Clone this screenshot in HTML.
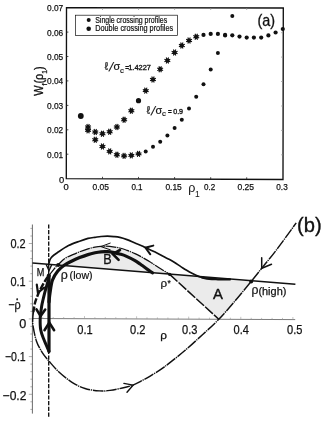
<!DOCTYPE html>
<html lang="en">
<head>
<meta charset="utf-8">
<title>Figure</title>
<style>
html,body{margin:0;padding:0;background:#fff;}
body{width:323px;height:422px;overflow:hidden;}
svg{display:block;font-family:"Liberation Sans",sans-serif;}
</style>
</head>
<body>
<svg width="323" height="422" viewBox="0 0 323 422">
<rect x="0" y="0" width="323" height="422" fill="#fff"/>
<g id="panel-a">
<path d="M66.5 7.7L283.3 8L283 179.5L66.3 178.6Z" fill="none" stroke="#111" stroke-width="1.35"/>
<path d="M66.4 154.2h2M66.4 129.8h2M66.4 105.4h2M66.4 80.9h2M66.4 56.5h2M66.4 32.1h2M102.5 178.8v-2M138.5 178.9v-2M174.6 179.0v-2M210.7 179.2v-2M246.7 179.3v-2" stroke="#222" stroke-width="0.8" fill="none"/>
<path d="M282.8 154.8h-1.8M282.8 130.4h-1.8M282.8 106.0h-1.8M282.8 81.5h-1.8M282.8 57.1h-1.8M282.8 32.7h-1.8M102.5 8.2v1.8M138.5 8.2v1.8M174.6 8.2v1.8M210.7 8.2v1.8M246.7 8.2v1.8" stroke="#999" stroke-width="0.7" fill="none"/>
<g font-size="9.4" text-anchor="end" fill="#111" stroke="#111" stroke-width="0.25">
<text x="64.2" y="182.8">0</text>
<text x="63.2" y="157.6" textLength="16.2" lengthAdjust="spacingAndGlyphs">0.01</text>
<text x="63.2" y="133.2" textLength="16.2" lengthAdjust="spacingAndGlyphs">0.02</text>
<text x="63.2" y="108.8" textLength="16.2" lengthAdjust="spacingAndGlyphs">0.03</text>
<text x="63.2" y="84.3" textLength="16.2" lengthAdjust="spacingAndGlyphs">0.04</text>
<text x="63.2" y="59.9" textLength="16.2" lengthAdjust="spacingAndGlyphs">0.05</text>
<text x="63.2" y="35.5" textLength="16.2" lengthAdjust="spacingAndGlyphs">0.06</text>
<text x="63.2" y="11.1" textLength="16.2" lengthAdjust="spacingAndGlyphs">0.07</text>
</g>
<g font-size="9.4" text-anchor="middle" fill="#111" stroke="#111" stroke-width="0.25">
<text x="66.1" y="189.8">0</text>
<text x="100.8" y="189.6" textLength="16.4" lengthAdjust="spacingAndGlyphs">0.05</text>
<text x="137.0" y="189.6" textLength="11.2" lengthAdjust="spacingAndGlyphs">0.1</text>
<text x="173.6" y="189.6" textLength="16.4" lengthAdjust="spacingAndGlyphs">0.15</text>
<text x="209.6" y="189.6" textLength="11.2" lengthAdjust="spacingAndGlyphs">0.2</text>
<text x="245.7" y="189.6" textLength="16.6" lengthAdjust="spacingAndGlyphs">0.25</text>
<text x="282.0" y="189.6" textLength="11.4" lengthAdjust="spacingAndGlyphs">0.3</text>
</g>
<text x="188.2" y="191.6" font-size="12.5" fill="#111">ρ<tspan font-size="8.5" dx="-0.3" dy="5">1</tspan></text>
<text transform="translate(43.3 95.8) rotate(-90)" font-size="12.2" stroke="#111" stroke-width="0.3" fill="#111" textLength="29.5" lengthAdjust="spacingAndGlyphs">W<tspan font-size="7.5" dy="3.6">f</tspan><tspan dy="-3.6">(ρ</tspan><tspan font-size="7.5" dy="3.6">1</tspan><tspan dy="-3.6">)</tspan></text>
<rect x="75.4" y="15.2" width="102.2" height="20.2" fill="#fff" stroke="#111" stroke-width="0.7"/>
<circle cx="88.7" cy="20.1" r="2" fill="#111"/><circle cx="88.7" cy="28.7" r="2.3" fill="#111"/>
<text x="95.2" y="22.5" font-size="8.2" stroke="#111" stroke-width="0.2" fill="#111" textLength="72" lengthAdjust="spacingAndGlyphs">Single crossing profiles</text>
<text x="95.2" y="31.2" font-size="8.2" stroke="#111" stroke-width="0.2" fill="#111" textLength="78" lengthAdjust="spacingAndGlyphs">Double crossing profiles</text>
<text x="257.4" y="26" font-size="16.2" fill="#111" stroke="#111" stroke-width="0.3" textLength="17.6" lengthAdjust="spacingAndGlyphs">(a)</text>
<g fill="#111" stroke="#111" stroke-width="0.2">
<text x="104.5" y="70.2" font-size="11.5" textLength="3.6" lengthAdjust="spacingAndGlyphs">ℓ</text>
<text transform="translate(108.5 71.0) skewX(-14)" font-size="12.5" stroke-width="0.1">/</text>
<text x="113.4" y="70.2" font-size="10.8">σ</text>
<text x="119.9" y="72.7" font-size="7.8">c</text>
<text x="125.3" y="69.9" font-size="6.4" stroke-width="0.35">=</text>
<text x="128.2" y="70.2" font-size="6.6" stroke-width="0.3" textLength="22.8" lengthAdjust="spacingAndGlyphs">1.4227</text>
</g>
<g fill="#111" stroke="#111" stroke-width="0.2">
<text x="146.6" y="113.8" font-size="11.5" textLength="3.6" lengthAdjust="spacingAndGlyphs">ℓ</text>
<text transform="translate(150.6 114.6) skewX(-14)" font-size="12.5" stroke-width="0.1">/</text>
<text x="155.5" y="113.8" font-size="10.8">σ</text>
<text x="162.0" y="116.3" font-size="7.8">c</text>
<text x="167.9" y="113.5" font-size="6.4" stroke-width="0.35">=</text>
<text x="173.2" y="113.8" font-size="6.6" stroke-width="0.3" textLength="9.9" lengthAdjust="spacingAndGlyphs">0.9</text>
</g>
<g fill="#111"><circle cx="80.8" cy="116.0" r="2.9"/><circle cx="88.0" cy="127.0" r="2.1"/><circle cx="95.3" cy="132.0" r="2.1"/><circle cx="102.5" cy="133.7" r="2.1"/><circle cx="109.7" cy="131.8" r="2.1"/><circle cx="116.9" cy="127.0" r="2.1"/><circle cx="124.1" cy="119.7" r="2.1"/><circle cx="131.3" cy="110.7" r="2.1"/><circle cx="138.5" cy="100.7" r="2.6"/><circle cx="145.7" cy="90.6" r="2.1"/><circle cx="153.0" cy="79.5" r="2.1"/><circle cx="160.2" cy="69.2" r="2.1"/><circle cx="167.4" cy="60.5" r="2.1"/><circle cx="174.6" cy="52.5" r="2.1"/><circle cx="181.8" cy="45.5" r="2.1"/><circle cx="189.0" cy="40.5" r="2.1"/><circle cx="196.2" cy="36.8" r="2.1"/><circle cx="203.5" cy="34.9" r="2.1"/><circle cx="210.7" cy="33.9" r="2.1"/><circle cx="217.9" cy="33.9" r="2.1"/><circle cx="225.1" cy="34.9" r="2.1"/><circle cx="232.3" cy="35.3" r="2.1"/><circle cx="239.5" cy="36.6" r="2.1"/><circle cx="246.7" cy="37.6" r="2.1"/><circle cx="253.9" cy="37.6" r="2.1"/><circle cx="261.2" cy="37.6" r="2.1"/><circle cx="268.4" cy="35.4" r="2.1"/><circle cx="275.6" cy="32.5" r="2.1"/><circle cx="282.8" cy="29.0" r="2.1"/><circle cx="88.0" cy="130.4" r="2.1"/><circle cx="95.3" cy="139.8" r="2.1"/><circle cx="102.5" cy="146.5" r="2.1"/><circle cx="109.7" cy="151.4" r="2.1"/><circle cx="116.9" cy="154.7" r="2.1"/><circle cx="124.1" cy="155.9" r="2.1"/><circle cx="131.3" cy="155.4" r="2.1"/><circle cx="138.5" cy="153.9" r="2.1"/><circle cx="145.7" cy="151.4" r="2.0"/><circle cx="153.0" cy="146.7" r="2.0"/><circle cx="160.2" cy="141.8" r="2.0"/><circle cx="167.4" cy="135.6" r="2.0"/><circle cx="174.6" cy="127.9" r="2.0"/><circle cx="181.8" cy="119.8" r="2.0"/><circle cx="189.0" cy="108.4" r="2.0"/><circle cx="196.2" cy="96.8" r="2.0"/><circle cx="203.5" cy="84.2" r="2.0"/><circle cx="210.7" cy="69.5" r="2.0"/><circle cx="217.9" cy="52.9" r="2.0"/><circle cx="225.1" cy="35.6" r="2.0"/><circle cx="232.3" cy="16.0" r="2.0"/></g>
<path d="M85.1 125.8L91.0 128.2M86.8 124.0L89.3 130.0M89.3 124.0L86.8 130.0M91.0 125.8L85.1 128.2M92.3 130.8L98.2 133.2M94.0 129.0L96.5 135.0M96.5 129.0L94.0 135.0M98.2 130.8L92.3 133.2M99.5 132.5L105.4 134.9M101.2 130.7L103.7 136.7M103.7 130.7L101.2 136.7M105.4 132.5L99.5 134.9M106.7 130.6L112.6 133.0M108.5 128.8L110.9 134.8M110.9 128.8L108.5 134.8M112.6 130.6L106.7 133.0M113.9 125.8L119.8 128.2M115.7 124.0L118.1 130.0M118.1 124.0L115.7 130.0M119.8 125.8L113.9 128.2M121.2 118.5L127.1 120.9M122.9 116.7L125.3 122.7M125.3 116.7L122.9 122.7M127.1 118.5L121.2 120.9M128.4 109.5L134.3 111.9M130.1 107.7L132.5 113.7M132.5 107.7L130.1 113.7M134.3 109.5L128.4 111.9M142.8 89.4L148.7 91.8M144.5 87.6L147.0 93.6M147.0 87.6L144.5 93.6M148.7 89.4L142.8 91.8M150.0 78.3L155.9 80.7M151.7 76.5L154.2 82.5M154.2 76.5L151.7 82.5M155.9 78.3L150.0 80.7M157.2 68.0L163.1 70.4M158.9 66.2L161.4 72.2M161.4 66.2L158.9 72.2M163.1 68.0L157.2 70.4M164.4 59.3L170.3 61.7M166.2 57.5L168.6 63.5M168.6 57.5L166.2 63.5M170.3 59.3L164.4 61.7M171.6 51.3L177.6 53.7M173.4 49.5L175.8 55.5M175.8 49.5L173.4 55.5M177.6 51.3L171.6 53.7M178.9 44.3L184.8 46.7M180.6 42.5L183.0 48.5M183.0 42.5L180.6 48.5M184.8 44.3L178.9 46.7M186.1 39.3L192.0 41.7M187.8 37.5L190.3 43.5M190.3 37.5L187.8 43.5M192.0 39.3L186.1 41.7M193.3 35.6L199.2 38.0M195.0 33.8L197.5 39.8M197.5 33.8L195.0 39.8M199.2 35.6L193.3 38.0M85.1 129.2L91.0 131.6M86.8 127.4L89.3 133.4M89.3 127.4L86.8 133.4M91.0 129.2L85.1 131.6M92.3 138.6L98.2 141.0M94.0 136.8L96.5 142.8M96.5 136.8L94.0 142.8M98.2 138.6L92.3 141.0M99.5 145.3L105.4 147.7M101.2 143.5L103.7 149.5M103.7 143.5L101.2 149.5M105.4 145.3L99.5 147.7M106.7 150.2L112.6 152.6M108.5 148.4L110.9 154.4M110.9 148.4L108.5 154.4M112.6 150.2L106.7 152.6M113.9 153.5L119.8 155.9M115.7 151.7L118.1 157.7M118.1 151.7L115.7 157.7M119.8 153.5L113.9 155.9M121.2 154.7L127.1 157.1M122.9 152.9L125.3 158.9M125.3 152.9L122.9 158.9M127.1 154.7L121.2 157.1M128.4 154.2L134.3 156.6M130.1 152.4L132.5 158.4M132.5 152.4L130.1 158.4M134.3 154.2L128.4 156.6M135.6 152.7L141.5 155.1M137.3 150.9L139.8 156.9M139.8 150.9L137.3 156.9M141.5 152.7L135.6 155.1" stroke="#111" stroke-width="1.1" fill="none"/>
</g>
<g id="panel-b">
<path d="M58.0 264.8 C59.1 263.8 62.4 260.2 64.8 258.6 C67.2 257.0 69.7 256.0 72.2 254.9 C74.7 253.8 77.0 252.8 79.6 251.8 C82.2 250.8 85.4 249.6 88.0 248.8 C90.6 248.0 92.8 247.5 95.0 247.1 C97.2 246.7 98.5 246.5 101.0 246.4 C103.5 246.3 106.6 246.1 109.7 246.4 C112.8 246.7 116.9 247.3 119.8 248.0 C122.7 248.7 124.5 249.4 127.0 250.3 C129.5 251.2 132.8 252.6 135.0 253.6 C137.2 254.6 138.0 255.0 140.5 256.4 C143.0 257.8 147.2 260.1 149.8 261.7 C152.4 263.3 153.9 264.5 156.0 265.8 C158.1 267.1 159.9 268.3 162.2 269.7 C164.5 271.1 168.4 273.6 169.7 274.4 L58.2 265.1 Z" fill="#ebebeb" stroke="none"/>
<path d="M169.7 274.4 L251.2 281.4 L218.8 319.3 Z" fill="#ebebeb" stroke="none"/>
<path d="M32.4 224.5V413.6" stroke="#5a5a5a" stroke-width="0.9" fill="none"/>
<path d="M32.4 318.5L295.2 319.6" stroke="#5a5a5a" stroke-width="0.8" fill="none"/>
<path d="M32.4 409.4h-2.0M32.4 401.8h-2.0M32.4 394.3h-3.6M32.4 386.8h-2.0M32.4 379.2h-2.0M32.4 371.7h-2.0M32.4 364.1h-2.0M32.4 356.6h-3.6M32.4 349.1h-2.0M32.4 341.5h-2.0M32.4 334.0h-2.0M32.4 326.4h-2.0M32.4 318.9h-3.6M32.4 311.4h-2.0M32.4 303.8h-2.0M32.4 296.3h-2.0M32.4 288.7h-2.0M32.4 281.2h-3.6M32.4 273.7h-2.0M32.4 266.1h-2.0M32.4 258.6h-2.0M32.4 251.0h-2.0M32.4 243.5h-3.6M32.4 236.0h-2.0M32.4 228.4h-2.0" stroke="#777" stroke-width="0.6" fill="none"/>
<path d="M42.8 318.5v-1.6M53.2 318.6v-1.6M63.7 318.6v-1.6M74.1 318.7v-1.6M84.5 318.7v-2.6M94.9 318.8v-1.6M105.3 318.8v-1.6M115.8 318.8v-1.6M126.2 318.9v-1.6M136.6 318.9v-2.6M147.0 319.0v-1.6M157.4 319.0v-1.6M167.9 319.1v-1.6M178.3 319.1v-1.6M188.7 319.2v-2.6M199.1 319.2v-1.6M209.5 319.2v-1.6M220.0 319.3v-1.6M230.4 319.3v-1.6M240.8 319.4v-2.6M251.2 319.4v-1.6M261.6 319.5v-1.6M272.1 319.5v-1.6M282.5 319.5v-1.6M292.9 319.6v-2.6" stroke="#999" stroke-width="0.6" fill="none"/>
<g font-size="12.6" fill="#111" stroke="#111" stroke-width="0.25">
<text x="25.6" y="247.8" text-anchor="end" textLength="15.2" lengthAdjust="spacingAndGlyphs">0.2</text>
<text x="25.6" y="285.6" text-anchor="end" textLength="15.2" lengthAdjust="spacingAndGlyphs">0.1</text>
<text x="26.2" y="328.1" text-anchor="end">0</text>
<text x="25.7" y="361.4" text-anchor="end" textLength="20.8" lengthAdjust="spacingAndGlyphs">−0.1</text>
<text x="26.4" y="400.4" text-anchor="end" textLength="23.8" lengthAdjust="spacingAndGlyphs">−0.2</text>
<text x="85.0" y="333.5" text-anchor="middle" textLength="15.4" lengthAdjust="spacingAndGlyphs">0.1</text>
<text x="137.7" y="333.7" text-anchor="middle" textLength="15.4" lengthAdjust="spacingAndGlyphs">0.2</text>
<text x="189.8" y="334.0" text-anchor="middle" textLength="15.4" lengthAdjust="spacingAndGlyphs">0.3</text>
<text x="241.3" y="334.2" text-anchor="middle" textLength="15.4" lengthAdjust="spacingAndGlyphs">0.4</text>
<text x="294.8" y="334.4" text-anchor="middle" textLength="15.4" lengthAdjust="spacingAndGlyphs">0.5</text>
<text x="8.2" y="308.6" textLength="12.6" lengthAdjust="spacingAndGlyphs">−ρ</text>
<text x="15.4" y="300.3" font-size="12.5" stroke-width="0.4">.</text>
<text x="160.3" y="339.2" font-size="11.8">ρ</text>
</g>
<path d="M32.5 263.0L295.4 284.3" stroke="#111" stroke-width="1.45" fill="none"/>
<path d="M48.7 224.4V417.8" stroke="#111" stroke-width="1.35" stroke-dasharray="4.2 1.5" fill="none"/>
<path d="M33.4 312.0 C33.3 313.0 32.9 315.7 32.8 318.0 C32.7 320.3 32.4 321.9 33.0 325.7 C33.6 329.5 34.9 336.5 36.4 340.9 C37.9 345.3 40.0 349.0 42.1 352.3 C44.2 355.6 45.9 357.5 48.7 360.8 C51.6 364.1 55.2 368.6 59.2 372.2 C63.2 375.8 68.1 379.9 72.4 382.6 C76.7 385.3 80.5 387.1 85.0 388.5 C89.5 389.9 95.3 390.6 99.5 390.9 C103.7 391.2 106.2 390.9 110.0 390.4 C113.8 389.9 118.6 388.9 122.4 388.0 C126.2 387.1 129.8 386.2 132.9 385.1 C136.0 384.0 138.2 382.6 141.0 381.1 C143.8 379.6 145.9 378.7 149.8 376.3 C153.7 373.9 158.7 371.0 164.4 366.8 C170.2 362.6 177.9 356.4 184.3 351.0 C190.7 345.6 197.2 339.5 203.0 334.2 C208.8 328.9 213.5 324.8 218.8 319.3 C224.1 313.8 229.6 307.3 235.0 301.0 C240.4 294.7 246.5 287.1 251.2 281.4 C255.9 275.7 258.8 271.8 263.0 266.6 C267.2 261.4 270.9 257.3 276.4 250.0 C281.9 242.7 292.9 227.4 296.2 222.9" stroke="#111" stroke-width="1.45" stroke-dasharray="10.5 0.8 1.3 0.8" fill="none"/>
<path d="M48.7 276.0 C49.5 274.9 52.1 271.6 53.6 269.7 C55.1 267.8 56.1 266.6 58.0 264.8 C59.9 263.0 62.4 260.2 64.8 258.6 C67.2 257.0 69.7 256.0 72.2 254.9 C74.7 253.8 77.0 252.8 79.6 251.8 C82.2 250.8 85.4 249.6 88.0 248.8 C90.6 248.0 92.8 247.5 95.0 247.1 C97.2 246.7 98.5 246.5 101.0 246.4 C103.5 246.3 106.6 246.1 109.7 246.4 C112.8 246.7 116.9 247.3 119.8 248.0 C122.7 248.7 124.5 249.4 127.0 250.3 C129.5 251.2 132.8 252.6 135.0 253.6 C137.2 254.6 138.0 255.0 140.5 256.4 C143.0 257.8 147.2 260.1 149.8 261.7 C152.4 263.3 153.9 264.5 156.0 265.8 C158.1 267.1 159.9 268.3 162.2 269.7 C164.5 271.1 168.4 273.6 169.7 274.4" stroke="#111" stroke-width="1.25" stroke-dasharray="10.5 0.8 1.3 0.8" fill="none"/>
<path d="M169.7 274.4L218.8 319.3" stroke="#111" stroke-width="1.5" stroke-dasharray="10.5 1.5" fill="none"/>
<path d="M48.7 264.0 C49.0 263.1 49.6 260.1 50.5 258.6 C51.4 257.1 52.6 256.1 54.0 255.0 C55.4 253.9 56.2 253.4 58.6 251.8 C61.0 250.2 65.0 247.4 68.5 245.6 C72.0 243.8 76.3 242.4 79.6 241.2 C82.8 240.0 85.4 239.1 88.0 238.4 C90.6 237.8 92.8 237.6 95.0 237.3 C97.2 237.0 98.9 236.7 101.0 236.5 C103.1 236.3 105.2 236.2 107.4 236.2 C109.6 236.2 111.9 236.4 114.0 236.6 C116.1 236.8 117.6 236.9 119.8 237.4 C122.0 237.9 124.5 238.7 127.0 239.6 C129.5 240.5 132.8 242.1 135.0 243.0 C137.2 243.9 138.8 244.4 140.5 245.2 C142.2 245.9 142.8 246.3 145.4 247.5 C148.0 248.7 152.7 251.0 156.0 252.6 C159.3 254.2 162.7 256.1 165.0 257.3 C167.3 258.5 168.3 258.9 170.0 259.8 C171.7 260.7 173.2 261.6 175.0 262.7 C176.8 263.8 178.6 265.2 180.5 266.4 C182.4 267.6 184.2 268.9 186.2 270.1 C188.2 271.3 190.3 272.5 192.5 273.6 C194.7 274.7 197.1 275.8 199.2 276.6 C201.3 277.4 204.0 277.9 205.0 278.2" stroke="#111" stroke-width="1.7" fill="none" stroke-linecap="round"/>
<path d="M202.0 277.4 C202.8 277.6 205.3 278.2 207.0 278.5 C208.7 278.8 210.2 278.9 212.0 279.0 C213.8 279.1 216.0 279.2 218.0 279.3 C220.0 279.4 222.0 279.4 224.0 279.4 C226.0 279.4 229.0 279.4 230.0 279.4" stroke="#111" stroke-width="2.3" fill="none" stroke-linecap="round"/>
<path d="M49 276V351.4" stroke="#111" stroke-width="3.2" fill="none" stroke-linecap="round"/>
<path d="M49.0 302.0 C49.2 300.5 49.4 296.6 50.0 293.0 C50.6 289.4 51.1 283.8 52.4 280.2 C53.7 276.6 55.8 273.6 57.8 271.1 C59.8 268.6 61.8 267.0 64.2 265.3 C66.6 263.6 69.4 262.3 72.0 261.0 C74.6 259.7 76.9 258.7 79.6 257.6 C82.3 256.5 85.4 255.4 88.0 254.6 C90.6 253.8 92.8 253.3 95.0 252.8 C97.2 252.3 98.9 252.0 101.0 251.8 C103.1 251.6 105.2 251.6 107.4 251.7 C109.6 251.8 111.9 252.2 114.0 252.6 C116.1 253.0 117.8 253.4 119.8 254.0 C121.8 254.6 123.5 255.0 126.0 256.1 C128.5 257.2 132.6 259.2 135.0 260.6 C137.4 262.0 138.0 262.6 140.5 264.3 C143.0 266.0 147.8 269.6 149.8 271.0 C151.8 272.4 152.1 272.5 152.6 272.8" stroke="#111" stroke-width="3.2" fill="none" stroke-linecap="round"/>
<path d="M48.6 279.5 C48.5 279.9 48.3 280.3 47.8 282.0 C47.3 283.7 46.3 287.1 45.5 289.9 C44.7 292.7 43.9 296.2 43.2 299.0 C42.6 301.8 42.1 303.4 41.6 306.6 C41.1 309.8 40.4 314.1 40.2 318.0 C40.1 321.9 40.1 326.2 40.7 329.8 C41.3 333.4 42.6 336.2 44.0 339.8 C45.4 343.4 48.1 349.3 48.9 351.2" stroke="#111" stroke-width="3" fill="none" stroke-linecap="round"/>
<path d="M48.0 276.5 C47.5 277.3 46.0 279.3 44.8 281.3 C43.6 283.3 42.1 286.0 40.9 288.3 C39.7 290.6 38.8 292.5 37.8 295.0 C36.8 297.5 35.6 300.5 34.9 303.3 C34.2 306.1 33.6 310.6 33.4 312.0" stroke="#111" stroke-width="2.4" stroke-dasharray="6.5 1.8" fill="none"/>
<path d="M127.0 392.2 L133.1 385.1 L123.9 383.4" fill="none" stroke="#111" stroke-width="1.4" stroke-linecap="round" stroke-linejoin="miter"/>
<path d="M261.7 257.7 L261.7 268.3 L271.5 264.3" fill="none" stroke="#111" stroke-width="1.5" stroke-linecap="round" stroke-linejoin="miter"/>
<path d="M153.3 245.6 L145.4 247.7 L150.3 254.3" fill="none" stroke="#111" stroke-width="2.0" stroke-linecap="round" stroke-linejoin="miter"/>
<path d="M110.2 243.1 L100.8 246.6 L110.3 249.8" fill="none" stroke="#111" stroke-width="1.0" stroke-linecap="round" stroke-linejoin="miter"/>
<path d="M120.0 250.0 L112.8 254.0 L118.6 259.8" fill="none" stroke="#111" stroke-width="2.6" stroke-linecap="round" stroke-linejoin="miter"/>
<path d="M36.8 284.7 L37.9 292.6 L44.2 287.7" fill="none" stroke="#111" stroke-width="2.2" stroke-linecap="round" stroke-linejoin="miter"/>
<path d="M36.5 309.3 L40.6 316.2 L45.2 309.6" fill="none" stroke="#111" stroke-width="2.6" stroke-linecap="round" stroke-linejoin="miter"/>
<path d="M54.1 330.2 L49.3 322.6 L44.5 330.2" fill="none" stroke="#111" stroke-width="2.6" stroke-linecap="round" stroke-linejoin="miter"/>
<path d="M46.3 264.8 L49.0 270.6 L51.7 264.8" fill="none" stroke="#111" stroke-width="1.4" stroke-linecap="round" stroke-linejoin="miter"/>
<g fill="#111"><circle cx="58.2" cy="264.9" r="2"/><circle cx="48.8" cy="275.6" r="2"/><circle cx="251.2" cy="281.4" r="2"/><circle cx="169.7" cy="274.4" r="1.6"/></g>
<text x="36.7" y="275.8" font-size="10.2" fill="#111" stroke="#111" stroke-width="0.25" textLength="7.6" lengthAdjust="spacingAndGlyphs">M</text>
<text x="60.8" y="278.8" font-size="12.4" fill="#111" stroke="#111" stroke-width="0.2">ρ</text>
<text x="69.6" y="279.2" font-size="10.8" fill="#111" stroke="#111" stroke-width="0.2" textLength="23" lengthAdjust="spacingAndGlyphs">(low)</text>
<text x="251.6" y="294.3" font-size="12.2" fill="#111" stroke="#111" stroke-width="0.2">ρ</text>
<text x="258.4" y="294.8" font-size="10.6" fill="#111" stroke="#111" stroke-width="0.25" textLength="28" lengthAdjust="spacingAndGlyphs">(high)</text>
<text x="160.6" y="286.9" font-size="11.6" fill="#111" stroke="#111" stroke-width="0.2">ρ<tspan font-size="8.5" x="167.4" y="286.2">*</tspan></text>
<text x="103.2" y="263.7" font-size="14.6" stroke="#111" stroke-width="0.3" fill="#111" textLength="8.4" lengthAdjust="spacingAndGlyphs">B</text>
<text x="212.9" y="298.8" font-size="15.2" stroke="#111" stroke-width="0.4" fill="#111" textLength="9.9" lengthAdjust="spacingAndGlyphs">A</text>
<text x="297" y="232" font-size="20.4" fill="#111" stroke="#111" stroke-width="0.35" textLength="24.6" lengthAdjust="spacingAndGlyphs">(b)</text>
</g>
</svg>
</body>
</html>
